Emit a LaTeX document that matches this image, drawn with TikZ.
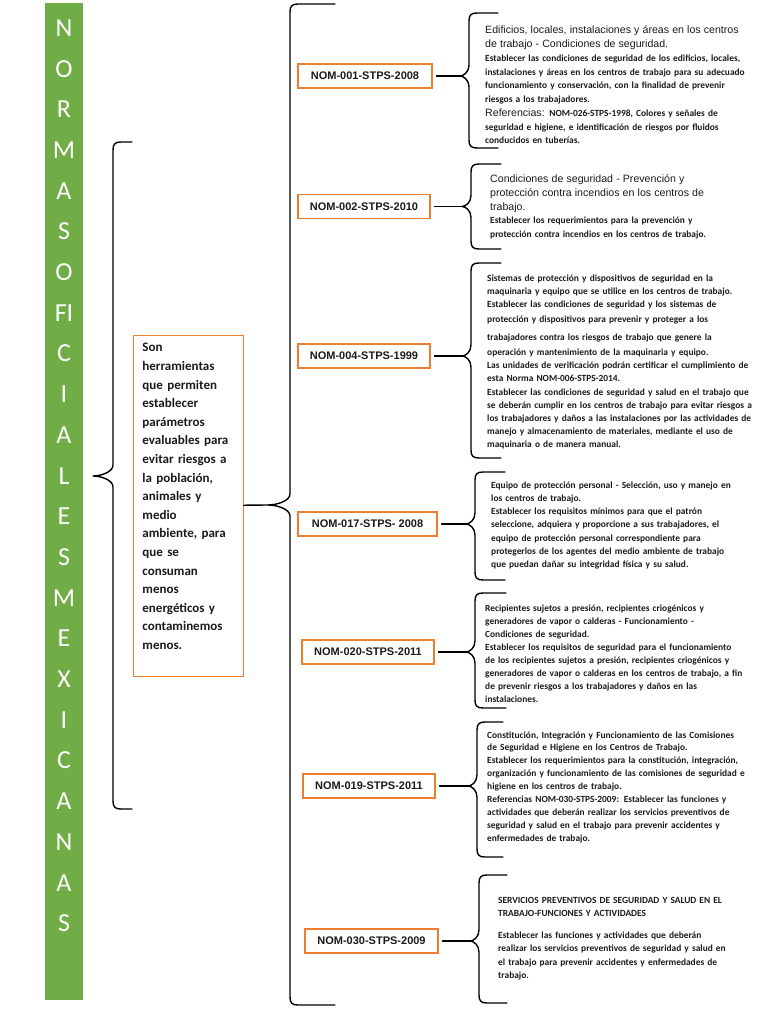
\documentclass[tikz,border=0pt]{standalone}
\usepackage{fontspec}
\setmainfont{Carlito}
\newfontfamily\arial{Liberation Sans}
\usetikzlibrary{positioning,calc}
\definecolor{cGreen}{HTML}{70AD47}
\definecolor{cOrange}{HTML}{ED7D31}
\definecolor{cInk}{HTML}{1A1A1A}
\newcommand\ar{\arial\mdseries\fontsize{10.6}{13.6}\selectfont}
\tikzset{
  brc/.style={line width=1.4pt,color=black,line cap=round,line join=round},
  barra/.style={fill=cGreen,minimum width=38pt,minimum height=997pt,inner sep=0pt},
  letra/.style={text=white,font=\fontsize{26}{26}\selectfont,inner sep=0pt},
  centro/.style={draw=cOrange,line width=0.9pt,text width=92pt,inner xsep=9pt,inner ysep=8pt,align=left,
    font=\fontsize{13}{18.6}\selectfont\bfseries,text depth=316pt,text=cInk},
  nom/.style={draw=cOrange,line width=1.1pt,minimum height=24pt,inner sep=0pt,text=cInk,
    font=\arial\fontsize{11}{11}\selectfont\bfseries},
  desc/.style={anchor=base west,align=left,text width=300pt,inner sep=0pt,text=cInk,
    font=\fontsize{9.4}{#1}\selectfont\bfseries},
  desc/.default=13.4,
}
% llave: nombre, punta x, punta y, vertical x, arriba y, abajo y, extremo x
\newcommand\llave[7]{%
  \coordinate (#1) at (#2,#3);
  \draw[brc] (#7,#5) -- (#4+8,#5) .. controls (#4+2,#5) and (#4,#5+2) .. (#4,#5+8)
    -- (#4,#3-11) .. controls (#4,#3-4) and ({#4-0.6*(#4-#2)},#3) .. (#1)
    .. controls ({#4-0.6*(#4-#2)},#3) and (#4,#3+4) .. (#4,#3+11)
    -- (#4,#6-8) .. controls (#4,#6-2) and (#4+2,#6) .. (#4+8,#6) -- (#7,#6);
}
\begin{document}
\begin{tikzpicture}[x=1pt,y=-1pt]
  \useasboundingbox (0,0) rectangle (768,1024);
  % barra de titulo
  \node[barra] (bar) at (64,501.5) {};
  \foreach \letra [count=\i from 0] in {N,O,R,M,A,S,O,FI,C,I,A,L,E,S,M,E,X,I,C,A,N,A,S}
    \node[letra] (l\i) at (64,{28+40.7*\i}) {\letra};

  % definicion
  \node[centro,anchor=north west] (def) at (133,335) {Son\\herramientas\\que permiten\\establecer\\par\'ametros\\evaluables para\\evitar riesgos a\\la poblaci\'on,\\animales y\\medio\\ambiente, para\\que se\\consuman\\menos\\energ\'eticos y\\contaminemos\\menos.};
  \llave{tbar}{93}{476}{113}{142}{809}{132}
  \llave{tdef}{268}{505}{290}{4}{1005}{335}
  \draw[brc] (def) -- (tdef);

  % normas
  \node[nom,minimum width=134pt] (n001) at (365,76) {NOM-001-STPS-2008};
  \node[nom,minimum width=132pt] (n002) at (364,206.5) {NOM-002-STPS-2010};
  \node[nom,minimum width=132pt] (n004) at (364,356) {NOM-004-STPS-1999};
  \node[nom,minimum width=139pt] (n017) at (367.5,524) {NOM-017-STPS- 2008};
  \node[nom,minimum width=132pt] (n020) at (368,652) {NOM-020-STPS-2011};
  \node[nom,minimum width=132pt] (n019) at (369,786) {NOM-019-STPS-2011};
  \node[nom,minimum width=133pt] (n030) at (371.5,941) {NOM-030-STPS-2009};

  % llaves de cada norma
  \llave{t001}{460}{76}{469}{13}{148}{498}
  \llave{t002}{462}{206.5}{471}{164}{249}{501}
  \llave{t004}{462}{356}{471}{263}{458}{501}
  \llave{t017}{466}{524}{475}{472}{580}{505}
  \llave{t020}{466}{652}{475}{593}{708}{506}
  \llave{t019}{468}{786}{477}{722}{857}{503}
  \llave{t030}{470}{941}{479}{875}{1003}{507}
  \foreach \n in {001,002,004,017,020,019,030}
    \draw[brc,shorten <=4pt] (n\n) -- (t\n);

  % descripciones
  \node[desc=13.75] (d001) at (485,34) {{\ar Edificios, locales, instalaciones y \'areas en los centros\\de trabajo - Condiciones de seguridad.}\\
    Establecer las condiciones de seguridad de los edificios, locales,\\
    instalaciones y \'areas en los centros de trabajo para su adecuado\\
    funcionamiento y conservaci\'on, con la finalidad de prevenir\\
    riesgos a los trabajadores.\\
    {\ar Referencias:} NOM-026-STPS-1998, Colores y se\~nales de\\
    seguridad e higiene, e identificaci\'on de riesgos por fluidos\\
    conducidos en tuber\'ias.};
  \node[desc=13.5] (d002) at (490,183) {{\ar Condiciones de seguridad - Prevenci\'on y\\protecci\'on contra incendios en los centros de\\trabajo.}\\
    Establecer los requerimientos para la prevenci\'on y\\
    protecci\'on contra incendios en los centros de trabajo.};
  \node[desc=13.2] (d004) at (487,281) {Sistemas de protecci\'on y dispositivos de seguridad en la\\
    maquinaria y equipo que se utilice en los centros de trabajo.\\
    Establecer las condiciones de seguridad y los sistemas de\\[2pt]
    protecci\'on y dispositivos para prevenir y proteger a los\\[5pt]
    trabajadores contra los riesgos de trabajo que genere la\\[1.5pt]
    operaci\'on y mantenimiento de la maquinaria y equipo.\\
    Las unidades de verificaci\'on podr\'an certificar el cumplimiento de\\
    esta Norma NOM-006-STPS-2014.\\
    Establecer las condiciones de seguridad y salud en el trabajo que\\
    se deber\'an cumplir en los centros de trabajo para evitar riesgos a\\
    los trabajadores y da\~nos a las instalaciones por las actividades de\\
    manejo y almacenamiento de materiales, mediante el uso de\\
    maquinaria o de manera manual.};
  \node[desc=13.33] (d017) at (491,488) {Equipo de protecci\'on personal - Selecci\'on, uso y manejo en\\
    los centros de trabajo.\\
    Establecer los requisitos m\'inimos para que el patr\'on\\
    seleccione, adquiera y proporcione a sus trabajadores, el\\
    equipo de protecci\'on personal correspondiente para\\
    protegerlos de los agentes del medio ambiente de trabajo\\
    que puedan da\~nar su integridad f\'isica y su salud.};
  \node[desc=13.14] (d020) at (485,611) {Recipientes sujetos a presi\'on, recipientes criog\'enicos y\\
    generadores de vapor o calderas - Funcionamiento -\\
    Condiciones de seguridad.\\
    Establecer los requisitos de seguridad para el funcionamiento\\
    de los recipientes sujetos a presi\'on, recipientes criog\'enicos y\\
    generadores de vapor o calderas en los centros de trabajo, a fin\\
    de prevenir riesgos a los trabajadores y da\~nos en las\\
    instalaciones.};
  \node[desc=12.9] (d019) at (487,738) {Constituci\'on, Integraci\'on y Funcionamiento de las Comisiones\\
    de Seguridad e Higiene en los Centros de Trabajo.\\
    Establecer los requerimientos para la constituci\'on, integraci\'on,\\
    organizaci\'on y funcionamiento de las comisiones de seguridad e\\
    higiene en los centros de trabajo.\\
    Referencias NOM-030-STPS-2009: Establecer las funciones y\\
    actividades que deber\'an realizar los servicios preventivos de\\
    seguridad y salud en el trabajo para prevenir accidentes y\\
    enfermedades de trabajo.};
  \node[desc=13.5] (d030) at (498,903) {SERVICIOS PREVENTIVOS DE SEGURIDAD Y SALUD EN EL\\
    TRABAJO-FUNCIONES Y ACTIVIDADES\\[8pt]
    Establecer las funciones y actividades que deber\'an\\
    realizar los servicios preventivos de seguridad y salud en\\
    el trabajo para prevenir accidentes y enfermedades de\\
    trabajo.};
\end{tikzpicture}
\end{document}
